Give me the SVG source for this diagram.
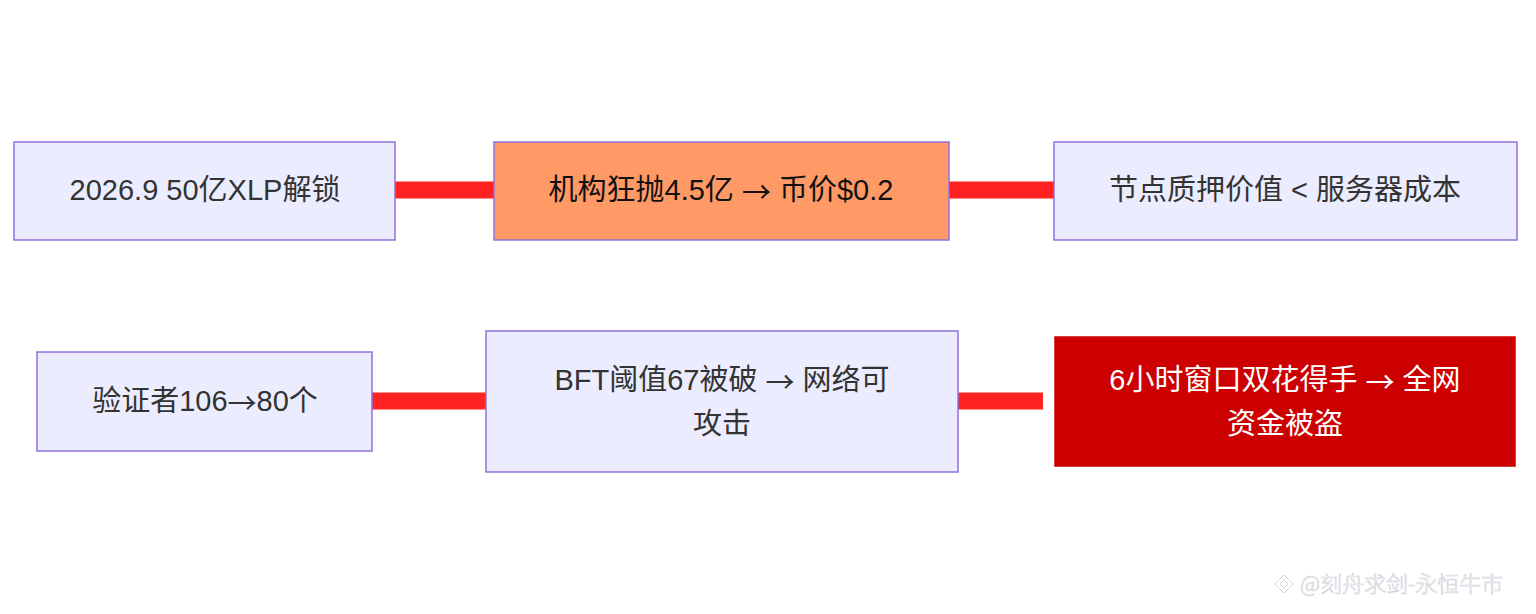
<svg xmlns="http://www.w3.org/2000/svg" width="1536" height="614" viewBox="0 0 1536 614">
<style>
.node rect{fill:#ECECFF;stroke:#9370DB;stroke-width:1.5}
.node text{font-family:"Liberation Sans","Noto Sans CJK SC",sans-serif;font-size:29px;fill:#333;text-anchor:middle;dominant-baseline:central}
.ar{font-family:"Noto Sans CJK SC",sans-serif}
#n2 rect{fill:#FF9966}
#n2 text{fill:#111}
#n6 rect{fill:#CC0000;stroke:#CC0000}
#n6 text{fill:#fff}
.edge{stroke:#FF2222;stroke-width:17;fill:none}
.wm{font-family:"Noto Sans CJK SC",sans-serif;font-size:22px;font-weight:300;fill:#fff;stroke:#d4d4dc;stroke-width:0.7}
</style>
<rect width="1536" height="614" fill="#fff"/>
<g id="connectors">
<line class="edge" x1="395" y1="190" x2="494" y2="190"/>
<line class="edge" x1="949" y1="190" x2="1054" y2="190"/>
<line class="edge" x1="372" y1="401" x2="486" y2="401"/>
<line class="edge" x1="958" y1="401" x2="1043" y2="401"/>
</g>
<g id="n1" class="node"><rect x="14" y="142" width="381" height="98"/><text x="205" y="190">2026.9 50亿XLP解锁</text></g>
<g id="n2" class="node"><rect x="494" y="142" width="455" height="98"/><text x="721" y="190">机构狂抛4.5亿 <tspan class="ar">→</tspan> 币价$0.2</text></g>
<g id="n3" class="node"><rect x="1054" y="142" width="463" height="98"/><text x="1285" y="190">节点质押价值 &lt; 服务器成本</text></g>
<g id="n4" class="node"><rect x="37" y="352" width="335" height="99"/><text x="205" y="401">验证者106<tspan class="ar">→</tspan>80个</text></g>
<g id="n5" class="node"><rect x="486" y="331" width="472" height="141"/><text x="722" y="380">BFT阈值67被破 <tspan class="ar">→</tspan> 网络可</text><text x="722" y="424">攻击</text></g>
<g id="n6" class="node"><rect x="1055" y="337" width="460" height="129"/><text x="1285" y="380">6小时窗口双花得手 <tspan class="ar">→</tspan> 全网</text><text x="1285" y="424">资金被盗</text></g>
<g id="watermark">
<path d="M1284 575 l9 9 l-9 9 l-9 -9 z M1284 580 l4 4 l-4 4 l-4 -4 z" fill="none" stroke="#d4d4dc" stroke-width="1"/>
<text class="wm" x="1300" y="592">@刻舟求剑-永恒牛市</text>
</g>
</svg>
